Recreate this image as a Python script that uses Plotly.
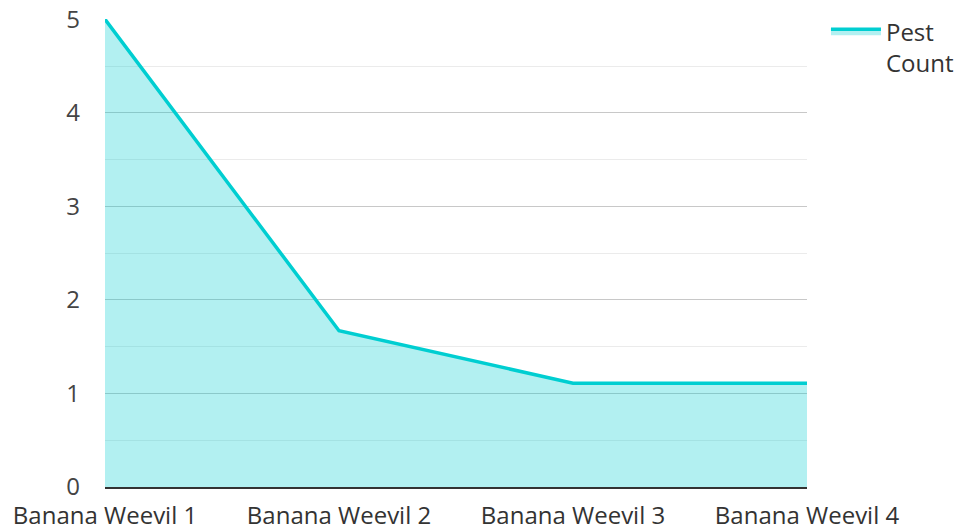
import plotly.graph_objects as go

categories = ["Banana Weevil 1", "Banana Weevil 2", "Banana Weevil 3", "Banana Weevil 4"]
pest_count = [5, 1.67, 1.11, 1.11]
y_ticks = [0, 1, 2, 3, 4, 5]

fig = go.Figure()
fig.add_trace(go.Scatter(
    x=categories, y=pest_count, mode="lines", name="Pest<br>Count",
    line=dict(color="#00CED1", width=3.5),
    fill="tozeroy", fillcolor="rgba(0,206,209,0.3)",
))

font_family = "Open Sans"
fig.update_layout(
    width=965, height=528,
    margin=dict(l=97, r=166, t=11, b=49, autoexpand=False),
    paper_bgcolor="white", plot_bgcolor="white",
    font=dict(family=font_family, size=24, color="#444"),
    showlegend=True,
    legend=dict(x=1.027, y=1.021, xanchor="left", yanchor="top", valign="top",
                font=dict(size=24, color="#333"), bgcolor="rgba(0,0,0,0)",
                itemwidth=50),
    xaxis=dict(
        type="category", range=[0, 3], showgrid=False, zeroline=False,
        showline=True, linecolor="#333", linewidth=2, automargin=False,
        ticks="", ticklabelstandoff=6, tickfont=dict(size=24, color="#333"),
        ticklabeloverflow="allow",
    ),
    yaxis=dict(
        range=[0, 5.003], tickvals=y_ticks, showgrid=True, gridcolor="#c8c8c8",
        gridwidth=1, zeroline=False, showline=False, ticks="", automargin=False,
        ticklabelstandoff=24, tickfont=dict(size=24, color="#444"),
        ticklabeloverflow="allow",
        minor=dict(dtick=0.5, showgrid=True, gridcolor="#ebebeb", gridwidth=1),
    ),
)

fig.write_html("out.html")
